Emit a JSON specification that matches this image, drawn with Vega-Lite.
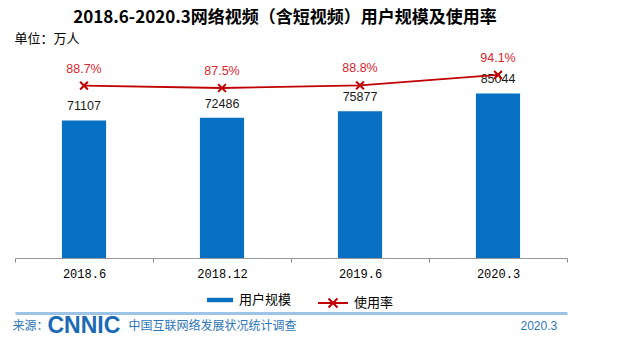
{
  "$schema": "https://vega.github.io/schema/vega-lite/v6.json",
  "width": 552,
  "height": 213,
  "autosize": {"type": "none"},
  "padding": {"left": 15, "top": 45, "right": 50, "bottom": 95},
  "background": "white",
  "title": {
    "text": "2018.6-2020.3网络视频（含短视频）用户规模及使用率",
    "font": "Noto Sans CJK SC",
    "fontSize": 17,
    "fontWeight": "bold",
    "color": "#000000",
    "anchor": "middle",
    "frame": "group",
    "dx": -6,
    "offset": 5
  },
  "config": {"view": {"stroke": null}, "axis": {"grid": false}},
  "data": {
    "values": [
      {"period": "2018.6", "users": 71107, "rate": 88.7, "rateLabel": "88.7%"},
      {"period": "2018.12", "users": 72486, "rate": 87.5, "rateLabel": "87.5%"},
      {"period": "2019.6", "users": 75877, "rate": 88.8, "rateLabel": "88.8%"},
      {"period": "2020.3", "users": 85044, "rate": 94.1, "rateLabel": "94.1%"}
    ]
  },
  "layer": [
    {
      "mark": {"type": "bar", "width": {"band": 0.32}},
      "encoding": {
        "x": {
          "field": "period", "type": "nominal", "sort": null,
          "scale": {"paddingInner": 0, "paddingOuter": 0},
          "axis": {
            "orient": "bottom",
            "title": "来源：", "titleX": -3, "titleY": 67, "titleAlign": "left", "titleBaseline": "middle", "titleAngle": 0,
            "titleFont": "Noto Sans CJK SC", "titleFontSize": 12, "titleFontWeight": "normal", "titleColor": "#2E75B6",
            "labelAngle": 0, "labelFont": "Liberation Mono", "labelFontSize": 12, "labelColor": "#000000", "labelPadding": 6,
            "tickBand": "extent", "tickSize": 4, "tickColor": "#888888", "domainColor": "#999999"
          }
        },
        "y": {
          "field": "users", "type": "quantitative",
          "scale": {"domain": [0, 110100], "nice": false, "zero": true},
          "axis": {
            "orient": "left", "domain": false, "ticks": false, "labels": false, "grid": false,
            "title": "单位：万人", "titleX": -1, "titleY": -7, "titleAngle": 0, "titleAlign": "left", "titleBaseline": "middle",
            "titleFont": "Noto Sans CJK SC", "titleFontSize": 13, "titleFontWeight": "normal", "titleColor": "#000000"
          }
        },
        "fill": {
          "datum": "用户规模",
          "scale": {"range": ["#0770C2"]},
          "legend": {
            "orient": "none", "legendX": 192, "legendY": 242, "title": null, "padding": 0,
            "symbolType": "M-1,-0.17H1V0.17H-1Z", "symbolSize": 676, "symbolStrokeWidth": 0,
            "labelFont": "Noto Sans CJK SC", "labelFontSize": 13, "labelColor": "#000000", "labelOffset": 6
          }
        }
      }
    },
    {
      "mark": {"type": "text", "baseline": "middle", "dy": -14, "font": "Liberation Sans", "fontSize": 12.5, "color": "#1A1A1A"},
      "encoding": {
        "x": {"field": "period", "type": "nominal", "sort": null, "axis": null},
        "y": {"field": "users", "type": "quantitative", "scale": {"domain": [0, 110100], "nice": false, "zero": true}, "axis": null},
        "text": {"field": "users", "type": "quantitative", "format": "d"}
      }
    },
    {
      "mark": {"type": "line", "strokeWidth": 1.8},
      "encoding": {
        "x": {
          "field": "period", "type": "nominal", "sort": null,
          "axis": {
            "orient": "bottom", "offset": 55, "domain": false,
            "labels": false, "ticks": false,
            "title": "中国互联网络发展状况统计调查", "titleX": 113, "titleY": 12, "titleAlign": "left", "titleBaseline": "middle", "titleAngle": 0,
            "titleFont": "Noto Sans CJK SC", "titleFontSize": 12, "titleFontWeight": "normal", "titleColor": "#2E75B6"
          }
        },
        "y": {
          "field": "rate", "type": "quantitative",
          "scale": {"domain": [1.7, 109.2], "nice": false, "zero": false},
          "axis": {
            "orient": "right", "domain": false, "ticks": false, "labels": false, "grid": false,
            "title": "2020.3", "titleX": -47, "titleY": 280, "titleAngle": 0, "titleAlign": "left", "titleBaseline": "middle",
            "titleFont": "Liberation Sans", "titleFontSize": 12, "titleFontWeight": "normal", "titleColor": "#2E75B6"
          }
        },
        "stroke": {
          "datum": "使用率",
          "scale": {"range": ["#C00000"]},
          "legend": {
            "orient": "none", "legendX": 302, "legendY": 242, "title": null, "padding": 0,
            "symbolType": "M-1,0H1M-0.3,-0.3L0.3,0.3M-0.3,0.3L0.3,-0.3", "symbolSize": 900, "symbolStrokeWidth": 2,
            "labelFont": "Noto Sans CJK SC", "labelFontSize": 13, "labelColor": "#000000", "labelOffset": 5
          }
        }
      }
    },
    {
      "mark": {"type": "point", "shape": "M-1,-1L1,1M-1,1L1,-1", "filled": false, "color": "#C00000", "strokeWidth": 2, "size": 60, "opacity": 1},
      "encoding": {
        "x": {"field": "period", "type": "nominal", "sort": null, "axis": null},
        "y": {"field": "rate", "type": "quantitative", "scale": {"domain": [1.7, 109.2], "nice": false, "zero": false}, "axis": null}
      }
    },
    {
      "mark": {"type": "text", "baseline": "middle", "dy": -17, "font": "Liberation Sans", "fontSize": 12.5, "color": "#D9262E"},
      "encoding": {
        "x": {
          "field": "period", "type": "nominal", "sort": null,
          "axis": {
            "orient": "top", "offset": -268, "domain": true, "domainColor": "#9DC3E6", "domainWidth": 3, "domainOpacity": 1,
            "ticks": true, "tickSize": 0, "tickOpacity": 0, "labels": true, "labelOpacity": 0, "labelFontSize": 1,
            "title": "CNNIC", "titleX": 32, "titleY": 12, "titleAlign": "left", "titleBaseline": "middle", "titleAngle": 0,
            "titleFont": "Liberation Sans", "titleFontSize": 23, "titleFontWeight": "bold", "titleColor": "#1B6AB5"
          }
        },
        "y": {"field": "rate", "type": "quantitative", "scale": {"domain": [1.7, 109.2], "nice": false, "zero": false}, "axis": null},
        "text": {"field": "rateLabel", "type": "nominal"}
      }
    }
  ],
  "resolve": {
    "scale": {"y": "independent", "fill": "independent", "stroke": "independent"},
    "axis": {"x": "independent", "y": "independent"}
  }
}
